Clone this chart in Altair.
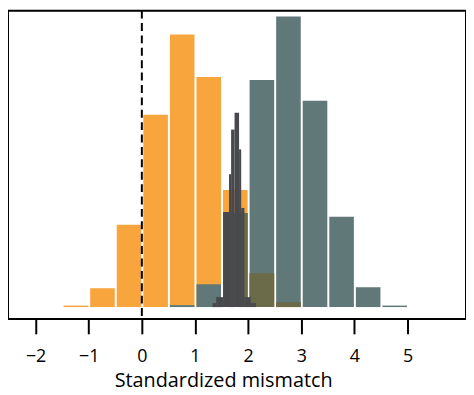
import altair as alt
import pandas as pd

# Histogram bins (width 0.5) – left edges
bin_starts = [-1.5, -1.0, -0.5, 0.0, 0.5, 1.0, 1.5, 2.0, 2.5, 3.0, 3.5, 4.0, 4.5]
# Orange distribution frequencies (arbitrary units)
orange_vals = [1.5, 19, 83, 194, 275, 232, 118, 34, 5, 0, 0, 0, 0]
# Slate distribution frequencies
slate_vals = [0, 0, 0, 0, 2, 23, 95, 229, 293, 208, 91, 20, 1.5]
# Overlap region shown in olive
overlap_vals = [0, 0, 0, 0, 0, 0, 95, 34, 5, 0, 0, 0, 0]

# Narrow dark distribution (fine bins)
spike_starts = [1.33, 1.40, 1.53, 1.64, 1.68, 1.745, 1.83, 1.87, 1.93, 2.05]
spike_ends = [1.40, 1.53, 1.64, 1.68, 1.745, 1.83, 1.87, 1.93, 2.05, 2.15]
spike_vals = [4, 10, 96, 134, 179, 196, 159, 100, 10, 4]

tick_values = [-2, -1, 0, 1, 2, 3, 4, 5]

bars = pd.DataFrame({
    "start": bin_starts,
    "end": [s + 0.5 for s in bin_starts],
    "orange": orange_vals,
    "slate": slate_vals,
    "overlap": overlap_vals,
})
spike = pd.DataFrame({"start": spike_starts, "end": spike_ends, "value": spike_vals})

xs = alt.Scale(domain=[-2.519, 6.101], nice=False, zero=False)
ys = alt.Scale(domain=[-12, 299], nice=False, zero=False)

xaxis = alt.Axis(
    values=tick_values, domain=False, grid=False,
    ticks=True, tickColor="black", tickWidth=2, tickSize=15,
    labelFontSize=18, labelColor="black", labelFont="Open Sans",
    labelBaseline="alphabetic", labelPadding=28,
    title="Standardized mismatch", titleFontSize=20, titleFont="Open Sans",
    titleFontWeight="normal", titleColor="black",
    titleX=217, titleY=68, titleBaseline="alphabetic", titleAlign="center",
)


def hist(field, color):
    return alt.Chart(bars).mark_bar(color=color, binSpacing=2, opacity=1).encode(
        x=alt.X("start:Q", bin="binned", scale=xs, axis=xaxis),
        x2="end:Q",
        y=alt.Y(f"{field}:Q", scale=ys, axis=None),
        y2=alt.datum(0),
    ).transform_filter(f"datum.{field} > 0")


orange = hist("orange", "#f9a53e")
slate = hist("slate", "#607878")
olive = hist("overlap", "#6b6a49")

spike_layer = alt.Chart(spike).mark_rect(color="#48494c").encode(
    x=alt.X("start:Q", scale=xs),
    x2="end:Q",
    y=alt.Y("value:Q", scale=ys),
    y2=alt.datum(0),
)

rule = alt.Chart(pd.DataFrame({"x": [0]})).mark_rule(
    color="black", strokeWidth=2, strokeDash=[8, 4.5]
).encode(x=alt.X("x:Q", scale=xs))

chart = alt.layer(orange, slate, olive, spike_layer, rule).properties(
    width=462, height=311,
    padding={"left": 0, "top": 0, "right": 0, "bottom": 0},
).configure_view(stroke="black", strokeWidth=2)

chart.save("out.html", embed_options={"renderer": "svg", "actions": False})
